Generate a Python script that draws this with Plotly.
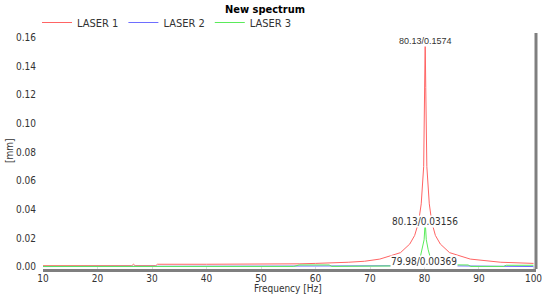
import plotly.graph_objects as go

# ---- data ----
laser1_freq = [10, 26.3, 26.6, 26.9, 30.7, 31.0, 40, 50.5, 51.0, 57, 60, 63, 66, 69, 71.8,
               74.6, 75.6, 77.3, 78.2, 78.9, 79.4, 79.85, 80.03, 80.13, 80.23, 80.43, 80.88,
               81.35, 82.0, 82.9, 84.6, 85.6, 88.4, 94, 100]
laser1_amp = [0.0009, 0.0009, 0.0019, 0.0009, 0.0009, 0.0019, 0.0019, 0.0019, 0.0024, 0.0022,
              0.0025, 0.0028, 0.0033, 0.0040, 0.0055, 0.0088, 0.0100, 0.016, 0.022, 0.031,
              0.044, 0.070, 0.125, 0.1574, 0.125, 0.070, 0.044, 0.031, 0.022, 0.016, 0.010,
              0.0088, 0.0055, 0.0033, 0.0025]

laser2_freq = [10, 60, 61, 78.5, 79.5, 79.98, 80.5, 81.5, 95, 95.5, 100]
laser2_amp = [0.0003, 0.0003, 0.0007, 0.0009, 0.0018, 0.00369, 0.0018, 0.0009, 0.0007, 0.0003, 0.0003]

laser3_freq = [10, 56, 57, 62.5, 63, 77.0, 78.1, 78.8, 79.23, 79.58, 79.93, 80.13, 80.33,
               80.68, 81.03, 81.5, 82.2, 88, 88.5, 94.5, 95, 100]
laser3_amp = [0.0004, 0.0004, 0.0014, 0.0014, 0.0004, 0.0008, 0.0025, 0.004, 0.007, 0.012,
              0.019, 0.03156, 0.019, 0.012, 0.007, 0.004, 0.0016, 0.0014, 0.0004, 0.0004,
              0.0012, 0.0012]

labels = [(80.13, 0.1574, "80.13/0.1574"),
          (80.13, 0.03156, "80.13/0.03156"),
          (79.98, 0.00369, "79.98/0.00369")]

x_ticks = [10, 20, 30, 40, 50, 60, 70, 80, 90, 100]
y_ticks = [0.00, 0.02, 0.04, 0.06, 0.08, 0.10, 0.12, 0.14, 0.16]

FONT = "DejaVu Sans Condensed, DejaVu Sans, sans-serif"

fig = go.Figure()
fig.add_trace(go.Scatter(x=laser1_freq, y=laser1_amp, mode="lines", name="LASER 1",
                         line=dict(color="rgb(255,100,100)", width=1)))
fig.add_trace(go.Scatter(x=laser2_freq, y=laser2_amp, mode="lines", name="LASER 2",
                         line=dict(color="rgb(110,110,255)", width=1)))
fig.add_trace(go.Scatter(x=laser3_freq, y=laser3_amp, mode="lines", name="LASER 3",
                         line=dict(color="rgb(90,235,90)", width=1)))

for i, (fx, fy, txt) in enumerate(labels):
    fig.add_annotation(x=fx, y=fy, text=txt, showarrow=False, xanchor="center", yanchor="middle",
                       bgcolor="white", borderpad=0,
                       font=dict(family=("Liberation Sans, Arial" if i == 0 else FONT),
                                 size=(9 if i == 0 else 10), color="#333333"))

fig.add_annotation(text="[mm]", xref="paper", yref="paper", x=0, y=0.5, xshift=-34,
                   xanchor="center", yanchor="middle",
                   textangle=-90, showarrow=False, font=dict(family=FONT, size=10, color="#333333"))
fig.add_annotation(text="Frequency [Hz]", xref="paper", yref="paper", x=0.497, y=0, yshift=-19,
                   xanchor="center", yanchor="middle", showarrow=False,
                   font=dict(family=FONT, size=10, color="#333333"))

fig.add_shape(type="line", xref="paper", yref="paper", x0=1, x1=1, y0=0, y1=1,
              line=dict(color="#7f7f7f", width=3))

fig.update_layout(
    width=550, height=299,
    margin=dict(l=43, r=14, t=33, b=30, autoexpand=False),
    paper_bgcolor="white", plot_bgcolor="white",
    font=dict(family=FONT, size=10, color="#333333"),
    title=dict(text="<b>New spectrum</b>", x=265/550, xref="container", xanchor="center",
               y=1 - 9/299, yref="container", yanchor="middle", pad=dict(t=0, b=0, l=0, r=0),
               font=dict(family=FONT, size=11, color="#000000")),
    legend=dict(orientation="h", xref="container", yref="container", x=37/550, xanchor="left",
                y=1 - 22.5/299, yanchor="middle", font=dict(family=FONT, size=11, color="#333333"),
                bgcolor="rgba(0,0,0,0)", itemwidth=30),
    showlegend=True,
)
fig.update_xaxes(range=[10, 100.46], tickvals=x_ticks, ticktext=[str(v) for v in x_ticks],
                 showgrid=False, zeroline=False, showline=True, linecolor="#7f7f7f", linewidth=3,
                 ticks="inside", ticklen=2, tickcolor="#dddddd", tickwidth=1, automargin=False,
                 ticklabelstandoff=-2,
                 tickfont=dict(family=FONT, size=10, color="#333333"))
fig.update_yaxes(range=[-0.0014, 0.163], tickvals=y_ticks, ticktext=[f"{v:.2f}" for v in y_ticks],
                 showgrid=False, zeroline=False, showline=False, ticks="", automargin=False,
                 ticklabelstandoff=6,
                 tickfont=dict(family=FONT, size=10, color="#333333"))

fig.write_html("out.html", config={"displayModeBar": False},
               post_script="document.body.style.margin='0px';")
